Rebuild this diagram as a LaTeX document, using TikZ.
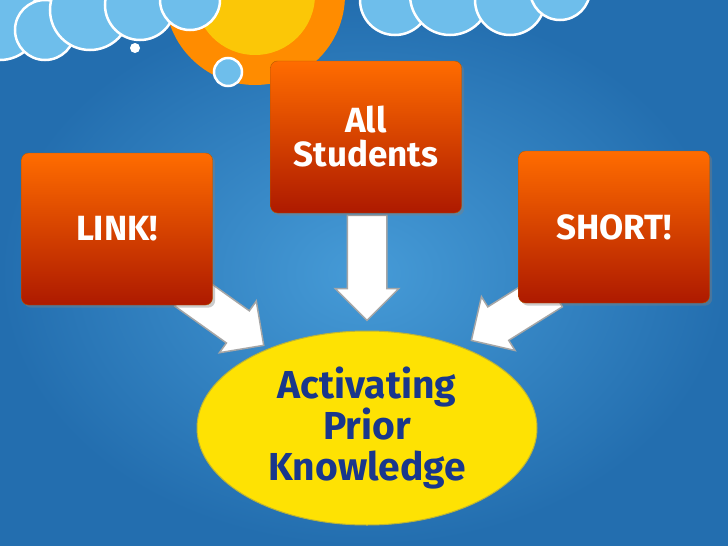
\documentclass[tikz,border=0pt]{standalone}
\usepackage{fontspec}
\setmainfont{Fira Sans}
\usetikzlibrary{shapes.arrows,shapes.geometric,shadows}
\begin{document}
\begin{tikzpicture}[x=1pt,y=1pt,
  box/.style={rounded corners=7pt,minimum width=191pt,minimum height=152pt,top color=orange!85!red,bottom color=red!60!black!80!orange,draw=orange!70!black,text=white,font=\bfseries\fontsize{35}{38}\selectfont,align=center,drop shadow={opacity=0.4}},
  barrow/.style={single arrow,draw=gray!70,line width=1.5pt,fill=white,minimum width=62pt,single arrow head extend=12pt,inner xsep=0pt,inner ysep=19pt,single arrow head indent=0pt},
  cloud/.style={fill={rgb,255:red,110;green,190;blue,235},draw=white,line width=2.5pt}]
\useasboundingbox (0,0) rectangle (728,-546);
\shade[inner color={rgb,255:red,70;green,155;blue,215},outer color={rgb,255:red,35;green,110;blue,175}] (0,0) rectangle (728,-546);
% sun
\fill[orange!90!yellow] (255,5) circle (90);
\fill[yellow!60!orange] (255,5) circle (60);
% clouds
\foreach \x/\y/\r in {0/-20/40,45/-30/30,90/-10/40,140/-5/35,190/0/30}{\draw[cloud] (\x,\y) circle (\r);}
\draw[cloud] (228,-72) circle (14);
\foreach \x/\y/\r in {395/0/35,450/5/40,510/0/35,560/10/30}{\draw[cloud] (\x,\y) circle (\r);}
\fill[white] (135,-48) circle (5);
% arrows
\node[barrow,minimum height=105pt,rotate=-90] (ac) at (367,-258) {};
\node[barrow,minimum height=95pt,rotate=-35.5] (al) at (217,-312) {};
\node[barrow,minimum height=95pt,rotate=212] (ar) at (520,-310) {};
% boxes
\node[box] (link) at (117,-229) {LINK!};
\node[box] (all) at (366,-137) {All\\[-4pt]Students};
\node[box] (short) at (614,-227) {SHORT!};
% ellipse
\node[ellipse,minimum width=340pt,minimum height=194pt,fill=yellow!85!orange,draw=yellow!70!black,line width=1pt,font=\bfseries\fontsize{39}{41}\selectfont,text={rgb,255:red,25;green,55;blue,140},align=center,inner sep=0pt] (apk) at (367,-428) {Activating\\Prior\\Knowledge};
\end{tikzpicture}
\end{document}
